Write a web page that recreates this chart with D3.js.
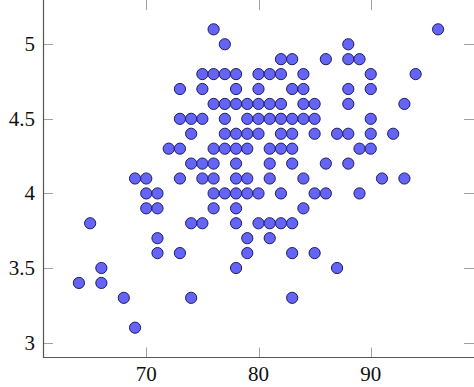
<!DOCTYPE html>
<html>
<head>
<meta charset="utf-8">
<script src="https://cdn.jsdelivr.net/npm/d3@7"></script>
<style>
  body { margin: 0; background: #fff; }
  text { font-family: "Liberation Serif", "DejaVu Serif", serif; }
</style>
</head>
<body>
<script>
// y level of each row of points, and the x values that sit on it
const yLevels = [5.1, 5.0, 4.9, 4.8, 4.7, 4.6, 4.5, 4.4, 4.3, 4.2, 4.1, 4.0, 3.9, 3.8, 3.7, 3.6, 3.5, 3.4, 3.3, 3.1];
const xByLevel = [
  [76, 96],
  [77, 88],
  [82, 83, 86, 88, 89],
  [75, 76, 77, 78, 80, 81, 82, 84, 90, 94],
  [73, 75, 78, 80, 83, 84, 88, 90],
  [76, 77, 78, 79, 80, 81, 82, 84, 85, 88, 93],
  [73, 74, 75, 77, 79, 80, 81, 82, 83, 84, 85, 90],
  [74, 77, 78, 79, 80, 82, 83, 85, 87, 88, 90, 92],
  [72, 73, 76, 77, 78, 79, 81, 82, 83, 89, 90],
  [74, 75, 76, 78, 81, 83, 86, 88],
  [69, 70, 73, 75, 76, 78, 79, 81, 84, 91, 93],
  [70, 71, 76, 77, 78, 79, 80, 82, 85, 86, 89],
  [70, 71, 76, 78, 84],
  [65, 74, 75, 78, 80, 81, 82, 83],
  [71, 79, 81],
  [71, 73, 79, 83, 85],
  [66, 78, 87],
  [64, 66],
  [68, 74, 83],
  [69]
];
const xTicks = [70, 80, 90];
const yTicks = [3, 3.5, 4, 4.5, 5];

const points = [];
yLevels.forEach((y, i) => {
  xByLevel[i].forEach((x) => points.push({ x: x, y: y }));
});

const width = 474;
const height = 387;
const plotLeft = 43, plotRight = 474, plotTop = -0.5, plotBottom = 357.5;

const svg = d3
  .select("body")
  .append("svg")
  .attr("width", width)
  .attr("height", height);

// pgfplots style: limits enlarged by 10% of the data range
const x = d3.scaleLinear().domain([60.8, 99.2]).range([plotLeft, plotRight]);
const y = d3.scaleLinear().domain([2.9, 5.3]).range([plotBottom, plotTop]);

const tickColor = "#a0a0a0";
const tickLen = 10;

// inner ticks on all four sides
svg.append("g")
  .selectAll("line")
  .data(xTicks)
  .enter()
  .append("line")
  .attr("x1", (d) => Math.round(x(d)) + 0.5)
  .attr("x2", (d) => Math.round(x(d)) + 0.5)
  .attr("y1", plotBottom)
  .attr("y2", plotBottom - tickLen)
  .attr("stroke", tickColor);

svg.append("g")
  .selectAll("line")
  .data(xTicks)
  .enter()
  .append("line")
  .attr("x1", (d) => Math.round(x(d)) + 0.5)
  .attr("x2", (d) => Math.round(x(d)) + 0.5)
  .attr("y1", 0)
  .attr("y2", tickLen)
  .attr("stroke", tickColor);

svg.append("g")
  .selectAll("line")
  .data(yTicks)
  .enter()
  .append("line")
  .attr("x1", plotLeft)
  .attr("x2", plotLeft + tickLen)
  .attr("y1", (d) => Math.round(y(d)) + 0.5)
  .attr("y2", (d) => Math.round(y(d)) + 0.5)
  .attr("stroke", tickColor);

svg.append("g")
  .selectAll("line")
  .data(yTicks)
  .enter()
  .append("line")
  .attr("x1", plotRight - tickLen)
  .attr("x2", plotRight)
  .attr("y1", (d) => Math.round(y(d)) + 0.5)
  .attr("y2", (d) => Math.round(y(d)) + 0.5)
  .attr("stroke", tickColor);

// axis box (top and right edges fall on the picture border)
svg.append("path")
  .attr("d", `M${plotLeft + 0.5},0V${plotBottom}H${plotRight}`)
  .attr("fill", "none")
  .attr("stroke", "#555")
  .attr("stroke-width", 1.2);

// tick labels
svg.append("g")
  .selectAll("text")
  .data(xTicks)
  .enter()
  .append("text")
  .attr("x", (d) => x(d))
  .attr("y", 381)
  .attr("text-anchor", "middle")
  .attr("font-size", 21)
  .attr("fill", "#111")
  .text((d) => d);

svg.append("g")
  .selectAll("text")
  .data(yTicks)
  .enter()
  .append("text")
  .attr("x", 35)
  .attr("y", (d) => y(d) + 7)
  .attr("text-anchor", "end")
  .attr("font-size", 21)
  .attr("fill", "#111")
  .text((d) => d);

// markers
svg.append("g")
  .selectAll("circle")
  .data(points)
  .enter()
  .append("circle")
  .attr("cx", (d) => x(d.x))
  .attr("cy", (d) => y(d.y))
  .attr("r", 5.6)
  .attr("fill", "#6464f8")
  .attr("stroke", "#1e1e5e")
  .attr("stroke-width", 1);
</script>
</body>
</html>
